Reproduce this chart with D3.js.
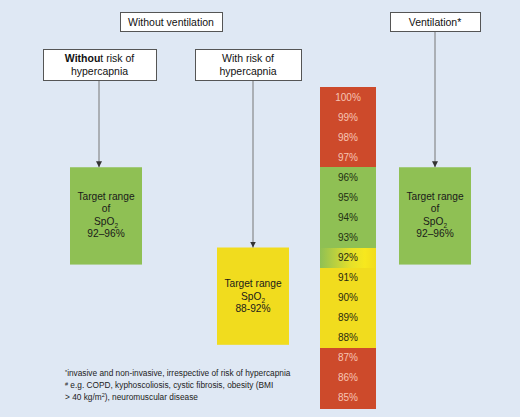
<!DOCTYPE html>
<html>
<head>
<meta charset="utf-8">
<script src="https://cdn.jsdelivr.net/npm/d3@7"></script>
<style>
  body { margin: 0; background: #dfe8f4; }
  svg { display: block; font-family: "Liberation Sans", Arial, sans-serif; }
</style>
</head>
<body>
<script>
// scale of SpO2 values, top to bottom
var spo2 = [100, 99, 98, 97, 96, 95, 94, 93, 92, 91, 90, 89, 88, 87, 86, 85];
var zones = ["red", "red", "red", "red", "green", "green", "green", "green",
             "mixed", "yellow", "yellow", "yellow", "yellow", "red", "red", "red"];

// header boxes
var headers = ["Without ventilation", "Ventilation*"];
var groups = ["t risk of", "hypercapnia", "With risk of", "hypercapnia"];

// target ranges: [high, low]
var targetHigh = [96, 92, 96];
var targetLow  = [92, 88, 92];
var targetLines = [
  ["Target range", "of", "SpO|2", "92\u201396%"],
  ["Target range", "SpO|2", "88-92%"],
  ["Target range", "of", "SpO|2", "92\u201396%"]
];

var footnotes = [
  ["*", "invasive and non-invasive, irrespective of risk of hypercapnia"],
  ["#", " e.g. COPD, kyphoscoliosis, cystic fibrosis, obesity (BMI"],
  ["", "> 40 kg/m|2|), neuromuscular disease"]
];

var w = 520, h = 417;
var fill = { red: "#cd4a2b", green: "#8fc054", yellow: "#f1dc1e" };
var textFill = { red: "#f7c4b4", green: "#1e2f12", yellow: "#2a2a10", mixed: "#2a2a10" };

var svg = d3.select("body").append("svg")
    .attr("width", w)
    .attr("height", h);

var defs = svg.append("defs");
var grad = defs.append("linearGradient").attr("id", "mix");
grad.append("stop").attr("offset", "0%").attr("stop-color", fill.green);
grad.append("stop").attr("offset", "55%").attr("stop-color", "#e6e02a");
grad.append("stop").attr("offset", "80%").attr("stop-color", "#f7e81e");
grad.append("stop").attr("offset", "100%").attr("stop-color", fill.yellow);

defs.append("marker")
    .attr("id", "arrow")
    .attr("viewBox", "0 0 10 10")
    .attr("refX", 10).attr("refY", 5)
    .attr("markerWidth", 6).attr("markerHeight", 6)
    .attr("orient", "auto")
  .append("path")
    .attr("d", "M0,0L10,5L0,10z")
    .attr("fill", "#333");

// vertical scale
var y = d3.scaleBand().domain(spo2).range([87, 408]);
var colX = 320, colW = 56;

var rows = svg.append("g").selectAll("g").data(spo2).enter().append("g");
rows.append("rect")
    .attr("x", colX)
    .attr("y", function(d) { return Math.round(y(d)); })
    .attr("width", colW)
    .attr("height", function(d) { return Math.round(y(d) + y.bandwidth()) - Math.round(y(d)) + 1; })
    .attr("shape-rendering", "crispEdges")
    .attr("fill", function(d, i) { return zones[i] == "mixed" ? "url(#mix)" : fill[zones[i]]; });
rows.append("text")
    .attr("x", colX + colW / 2)
    .attr("y", function(d) { return y(d) + y.bandwidth() / 2 + 3.5; })
    .attr("text-anchor", "middle")
    .attr("font-size", 10)
    .attr("fill", function(d, i) { return textFill[zones[i]]; })
    .text(function(d) { return d + "%"; });

// boxes with labels
function box(x0, y0, bw, bh) {
  svg.append("rect")
     .attr("x", x0 + 0.5).attr("y", y0 + 0.5)
     .attr("width", bw).attr("height", bh)
     .attr("fill", "#fff")
     .attr("stroke", "#555")
     .attr("stroke-width", 1);
}
function label(x0, y0, s) {
  return svg.append("text").attr("x", x0).attr("y", y0)
     .attr("text-anchor", "middle").attr("font-size", 10.5).attr("fill", "#111").text(s);
}
function arrow(x0, y0, y1) {
  svg.append("line")
     .attr("x1", x0).attr("x2", x0)
     .attr("y1", y0).attr("y2", y1)
     .attr("stroke", "#777")
     .attr("stroke-width", 1)
     .attr("marker-end", "url(#arrow)");
}

box(120, 12, 102, 19);
label(171, 25.5, headers[0]);

box(390, 12, 90, 19);
label(435, 25.5, headers[1]);

box(43, 49, 113, 31);
var t1 = label(99.5, 62, null);
t1.append("tspan").attr("font-weight", "bold").text("Withou");
t1.append("tspan").text(groups[0]);
label(99.5, 75, groups[1]);

box(195, 49, 106, 31);
label(248, 62, groups[2]);
label(248, 75, groups[3]);

// target boxes
var targetX = [70, 217, 399], targetW = 72;
var targetFill = [fill.green, fill.yellow, fill.green];
var arrowX = [99, 253, 435], arrowFrom = [81, 81, 32];

targetHigh.forEach(function(hi, i) {
  var top = y(hi), bot = y(targetLow[i]) + y.bandwidth() - 3;
  svg.append("rect")
     .attr("x", targetX[i]).attr("y", top)
     .attr("width", targetW).attr("height", bot - top)
     .attr("fill", targetFill[i]);
  arrow(arrowX[i], arrowFrom[i], top);
  var lines = targetLines[i];
  var lh = 12.3;
  var cy = (top + bot) / 2 - (lines.length - 1) * lh / 2 - (i == 1 ? 0 : 1);
  lines.forEach(function(l, j) {
    var t = svg.append("text")
       .attr("x", targetX[i] + targetW / 2)
       .attr("y", cy + j * lh + 3.5)
       .attr("text-anchor", "middle")
       .attr("font-size", 10.2)
       .attr("fill", "#1a1a1a");
    var parts = l.split("|");
    t.append("tspan").text(parts[0]);
    if (parts[1]) t.append("tspan").attr("font-size", 6.5).attr("dy", 3).text(parts[1]);
  });
});

// footnotes
footnotes.forEach(function(f, i) {
  var t = svg.append("text")
     .attr("x", 65).attr("y", 376 + i * 12)
     .attr("font-size", 8.3)
     .attr("fill", "#222");
  if (f[0]) t.append("tspan").attr("font-size", 5.5).attr("dy", -2.5).text(f[0]);
  var parts = f[1].split("|");
  t.append("tspan").attr("dy", f[0] ? 2.5 : 0).text(parts[0]);
  if (parts[1]) {
    t.append("tspan").attr("font-size", 5.5).attr("dy", -3).text(parts[1]);
    t.append("tspan").attr("dy", 3).text(parts[2]);
  }
});
</script>
</body>
</html>
